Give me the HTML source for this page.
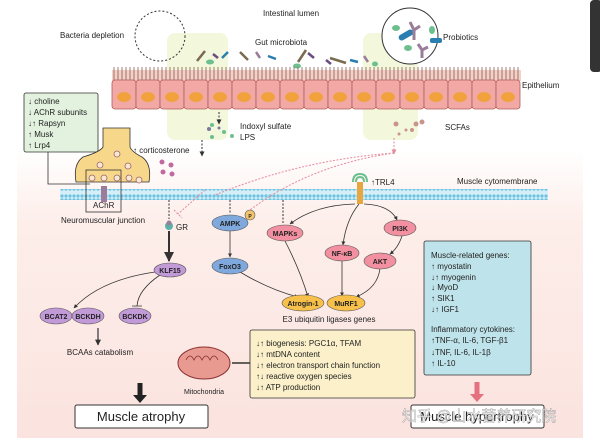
<!DOCTYPE html><html><head><meta charset="utf-8"><style>
body{margin:0;background:#fff}svg{display:block}
text{font-family:"Liberation Sans",sans-serif;font-size:8px;fill:#222}
.b{font-weight:bold;font-size:7px;text-anchor:middle}
</style></head><body>
<svg width="600" height="447" viewBox="0 0 600 447">
<defs>
<linearGradient id="pg" x1="0" y1="0" x2="0" y2="1"><stop offset="0" stop-color="#fff"/><stop offset="0.25" stop-color="#fdeeea"/><stop offset="1" stop-color="#fbe3df"/></linearGradient>
<marker id="a" viewBox="0 0 10 10" refX="9" refY="5" markerWidth="5" markerHeight="5" orient="auto"><path d="M0,0L10,5L0,10z" fill="#333"/></marker>
<marker id="ar" viewBox="0 0 10 10" refX="9" refY="5" markerWidth="5" markerHeight="5" orient="auto"><path d="M0,0L10,5L0,10z" fill="#e58a9a"/></marker>
<pattern id="mem" width="4" height="11" patternUnits="userSpaceOnUse"><rect width="4" height="11" fill="#d6eef7"/><circle cx="2" cy="2" r="1.6" fill="#6cc3e0"/><circle cx="2" cy="9" r="1.6" fill="#6cc3e0"/></pattern>
</defs>
<rect x="17" y="150" width="566" height="288" fill="url(#pg)"/>
<rect x="590" y="0" width="12" height="72" rx="4" fill="#333"/>
<rect x="167" y="33" width="61" height="107" rx="8" fill="#f3f7dc"/>
<rect x="363" y="33" width="55" height="107" rx="8" fill="#f3f7dc"/>
<text x="263" y="16">Intestinal lumen</text>
<circle cx="160" cy="36" r="25" fill="none" stroke="#333" stroke-dasharray="2,2"/>
<text x="60" y="38">Bacteria depletion</text>
<text x="255" y="45">Gut microbiota</text>
<circle cx="410" cy="36" r="28" fill="#fff" stroke="#333"/>
<rect x="398" y="32" width="16" height="6" rx="3" fill="#2a7fb0" transform="rotate(-30 406 35)"/>
<path d="M410 22l4 8 6-4M414 30v10" stroke="#9b7d9a" stroke-width="3" fill="none"/>
<path d="M418 44l4 6 6-3M422 50v8" stroke="#9b7d9a" stroke-width="3" fill="none"/>
<ellipse cx="396" cy="28" rx="4" ry="3" fill="#6dbf8f"/><ellipse cx="432" cy="30" rx="3" ry="4" fill="#6dbf8f"/><ellipse cx="408" cy="48" rx="4" ry="3" fill="#6dbf8f"/>
<rect x="430" y="38" width="12" height="5" rx="2" fill="#2a7fb0"/>
<text x="443" y="40">Probiotics</text>
<g stroke-width="2.5" fill="none">
<path d="M197 61l8-10" stroke="#7a6a50"/><path d="M240 52l8 8" stroke="#7a6a50"/><path d="M298 62l8-12" stroke="#7a6a50"/><path d="M330 58l16 5" stroke="#7a6a50"/>
<path d="M222 58l6-6" stroke="#2a7fb0"/><path d="M268 56l8 3" stroke="#2a7fb0"/><path d="M350 60l8 2" stroke="#2a7fb0"/>
<path d="M213 54l5 4M308 53l6 5M326 60l5 4" stroke="#6a4c7e"/>
<path d="M256 52l4 6M364 56l4 6" stroke="#9b7d9a"/>
</g>
<ellipse cx="210" cy="62" rx="4" ry="2.5" fill="#6dbf8f"/><ellipse cx="297" cy="66" rx="4" ry="2.5" fill="#6dbf8f"/><ellipse cx="375" cy="64" rx="3" ry="2.5" fill="#6dbf8f"/>
<rect x="112" y="70" width="409" height="11" fill="#f4d0c8"/>
<g stroke="#8a5a50" stroke-width="0.8">
<path d="M114 80V67M118 80V67M122 80V67M126 80V67M130 80V67M134 80V67M138 80V67M142 80V67M146 80V67M150 80V67M154 80V67M158 80V67M162 80V67M166 80V67M170 80V67M174 80V67M178 80V67M182 80V67M186 80V67M190 80V67M194 80V67M198 80V67M202 80V67M206 80V67M210 80V67M214 80V67M218 80V67M222 80V67M226 80V67M230 80V67M234 80V67M238 80V67M242 80V67M246 80V67M250 80V67M254 80V67M258 80V67M262 80V67M266 80V67M270 80V67M274 80V67M278 80V67M282 80V67M286 80V67M290 80V67M294 80V67M298 80V67M302 80V67M306 80V67M310 80V67M314 80V67M318 80V67M322 80V67M326 80V67M330 80V67M334 80V67M338 80V67M342 80V67M346 80V67M350 80V67M354 80V67M358 80V67M362 80V67M366 80V67M370 80V67M374 80V67M378 80V67M382 80V67M386 80V67M390 80V67M394 80V67M398 80V67M402 80V67M406 80V67M410 80V67M414 80V67M418 80V67M422 80V67M426 80V67M430 80V67M434 80V67M438 80V67M442 80V67M446 80V67M450 80V67M454 80V67M458 80V67M462 80V67M466 80V67M470 80V67M474 80V67M478 80V67M482 80V67M486 80V67M490 80V67M494 80V67M498 80V67M502 80V67M506 80V67M510 80V67M514 80V67M518 80V67"/>
</g>
<g fill="#f2a9a6" stroke="#b05b5a" stroke-width="0.8">
<rect x="112" y="80" width="24" height="29" rx="3"/><rect x="136" y="80" width="24" height="29" rx="3"/><rect x="160" y="80" width="24" height="29" rx="3"/><rect x="184" y="80" width="24" height="29" rx="3"/><rect x="208" y="80" width="24" height="29" rx="3"/><rect x="232" y="80" width="24" height="29" rx="3"/><rect x="256" y="80" width="24" height="29" rx="3"/><rect x="280" y="80" width="24" height="29" rx="3"/><rect x="304" y="80" width="24" height="29" rx="3"/><rect x="328" y="80" width="24" height="29" rx="3"/><rect x="352" y="80" width="24" height="29" rx="3"/><rect x="376" y="80" width="24" height="29" rx="3"/><rect x="400" y="80" width="24" height="29" rx="3"/><rect x="424" y="80" width="24" height="29" rx="3"/><rect x="448" y="80" width="24" height="29" rx="3"/><rect x="472" y="80" width="24" height="29" rx="3"/><rect x="496" y="80" width="24" height="29" rx="3"/>
</g>
<g fill="#f2a23c"><ellipse cx="124" cy="97" rx="7" ry="5"/><ellipse cx="148" cy="97" rx="7" ry="5"/><ellipse cx="172" cy="97" rx="7" ry="5"/><ellipse cx="196" cy="97" rx="7" ry="5"/><ellipse cx="220" cy="97" rx="7" ry="5"/><ellipse cx="244" cy="97" rx="7" ry="5"/><ellipse cx="268" cy="97" rx="7" ry="5"/><ellipse cx="292" cy="97" rx="7" ry="5"/><ellipse cx="316" cy="97" rx="7" ry="5"/><ellipse cx="340" cy="97" rx="7" ry="5"/><ellipse cx="364" cy="97" rx="7" ry="5"/><ellipse cx="388" cy="97" rx="7" ry="5"/><ellipse cx="412" cy="97" rx="7" ry="5"/><ellipse cx="436" cy="97" rx="7" ry="5"/><ellipse cx="460" cy="97" rx="7" ry="5"/><ellipse cx="484" cy="97" rx="7" ry="5"/><ellipse cx="508" cy="97" rx="7" ry="5"/></g>
<text x="522" y="88">Epithelium</text>
<rect x="24" y="93" width="74" height="59" rx="2" fill="#e3f2df" stroke="#333" stroke-width="0.8"/>
<text x="28" y="104">↓ choline</text><text x="28" y="115">↓ AChR subunits</text><text x="28" y="126">↓↑ Rapsyn</text><text x="28" y="137">↑ Musk</text><text x="28" y="148">↑ Lrp4</text>
<path d="M48 152V184H90" stroke="#333" fill="none" stroke-width="0.8"/>
<path d="M219 112V124" stroke="#333" stroke-dasharray="2,1.5" marker-end="url(#a)"/>
<g fill="#6dbf8f"><circle cx="212" cy="125" r="2"/><circle cx="224" cy="132" r="2"/><circle cx="212" cy="137" r="2"/><circle cx="232" cy="136" r="2"/></g>
<g fill="#7a7aa0"><circle cx="209" cy="129" r="2"/><circle cx="219" cy="128" r="1.5"/></g>
<text x="240" y="129">Indoxyl sulfate</text><text x="240" y="140">LPS</text>
<g fill="#c9958a"><circle cx="396" cy="124" r="2.5"/><circle cx="416" cy="124" r="2.5"/><circle cx="422" cy="122" r="2.5"/><circle cx="406" cy="130" r="1.5"/><circle cx="399" cy="134" r="1.5"/><circle cx="412" cy="130" r="2"/></g>
<text x="445" y="130">SCFAs</text>
<path d="M394 138V154" stroke="#e58a9a" stroke-dasharray="2,1.5" marker-end="url(#ar)"/>
<text x="133" y="153">↑ corticosterone</text>
<path d="M202 140V156" stroke="#333" stroke-dasharray="2,1.5" marker-end="url(#a)"/>
<g fill="#c06aa0"><circle cx="162" cy="162" r="2.5"/><circle cx="171" cy="165" r="2.5"/><circle cx="163" cy="172" r="2.5"/><circle cx="172" cy="174" r="2.5"/></g>
<path d="M103 128H130V147Q132 152 142 157Q152 164 149 182H76Q73 164 83 157Q100 152 103 147Z" fill="#f7d88a" stroke="#333" stroke-width="0.8"/>
<g fill="#f5e9d0" stroke="#a06070" stroke-width="0.8"><circle cx="117" cy="154" r="3"/><circle cx="100" cy="165" r="3"/><circle cx="128" cy="166" r="3"/><circle cx="92" cy="178" r="3"/><circle cx="104" cy="178" r="3"/><circle cx="117" cy="178" r="3"/><circle cx="129" cy="178" r="3"/><circle cx="139" cy="180" r="3"/></g>
<rect x="60" y="189" width="488" height="11" fill="url(#mem)"/>
<rect x="86" y="170" width="35" height="42" fill="none" stroke="#333" stroke-width="0.8"/>
<rect x="101" y="186" width="6" height="16" fill="#9b7d9a"/>
<text x="93" y="208">AChR</text>
<text x="61" y="223">Neuromuscular junction</text>
<path d="M394 153Q300 160 215 195M394 153Q310 165 250 210" stroke="#e58a9a" stroke-dasharray="2,1.5" fill="none"/>
<path d="M205 190L178 214M174 210l8 8" stroke="#e58a9a" stroke-dasharray="2,1.5" fill="none"/>
<path d="M353 182q0-8 7-8q7 0 7 8M356 182q0-5 4-5q4 0 4 5" stroke="#6dbf8f" stroke-width="2" fill="none"/>
<rect x="357" y="182" width="6" height="22" fill="#e8a640"/>
<text x="371" y="185">↑TRL4</text>
<text x="457" y="184">Muscle cytomembrane</text>
<path d="M169 200V219M230 200V214M283 200V224" stroke="#333" stroke-dasharray="2,1.5"/>
<circle cx="169" cy="226" r="4" fill="#5bb0a8"/><circle cx="169" cy="223" r="2.5" fill="#9b7d9a"/>
<text x="176" y="230">GR</text>
<path d="M169 231V261" stroke="#333" stroke-width="2" marker-end="url(#a)"/>
<g stroke="#333" fill="none" stroke-width="0.8">
<path d="M230 231V257" marker-end="url(#a)"/>
<path d="M240 272Q270 290 298 297" marker-end="url(#a)"/>
<path d="M285 241Q300 270 308 297" marker-end="url(#a)"/>
<path d="M342 261V296" marker-end="url(#a)"/>
<path d="M380 268Q378 288 356 297" marker-end="url(#a)"/>
<path d="M402 236Q398 248 390 254" marker-end="url(#a)"/>
<path d="M355 204Q315 205 290 224" marker-end="url(#a)"/>
<path d="M359 204Q346 220 343 245" marker-end="url(#a)"/>
<path d="M364 204Q390 205 397 220" marker-end="url(#a)"/>
<path d="M155 272Q100 280 74 308" marker-end="url(#a)"/>
<path d="M160 275Q138 290 137 306M132 306h10"/>
</g>
<path d="M98 328V345" stroke="#333" stroke-width="1.2" marker-end="url(#a)"/>
<g stroke="#555" stroke-width="0.6">
<ellipse cx="230" cy="223" rx="18" ry="8" fill="#7fa8dc"/><circle cx="250" cy="215" r="5" fill="#f2c46e"/>
<ellipse cx="230" cy="266" rx="18" ry="8" fill="#7fa8dc"/>
<ellipse cx="285" cy="233" rx="18" ry="8" fill="#f28fa0"/>
<ellipse cx="342" cy="253" rx="17" ry="8" fill="#f28fa0"/>
<ellipse cx="400" cy="228" rx="16" ry="8" fill="#f28fa0"/>
<ellipse cx="380" cy="261" rx="16" ry="8" fill="#f28fa0"/>
<ellipse cx="170" cy="270" rx="16" ry="7" fill="#c29ad8"/>
<ellipse cx="56" cy="316" rx="16" ry="8" fill="#c29ad8"/><ellipse cx="88" cy="316" rx="16" ry="8" fill="#c29ad8"/><ellipse cx="135" cy="316" rx="16" ry="8" fill="#c29ad8"/>
<ellipse cx="303" cy="303" rx="21" ry="8" fill="#f6c04a"/><ellipse cx="346" cy="303" rx="19" ry="8" fill="#f6c04a"/>
</g>
<text class="b" x="230" y="226">AMPK</text><text class="b" x="250" y="218" style="font-size:5px">P</text>
<text class="b" x="230" y="269">FoxO3</text><text class="b" x="285" y="236">MAPKs</text><text class="b" x="342" y="256">NF-κB</text>
<text class="b" x="400" y="231">PI3K</text><text class="b" x="380" y="264">AKT</text><text class="b" x="170" y="273">KLF15</text>
<text class="b" x="56" y="319">BCAT2</text><text class="b" x="88" y="319">BCKDH</text><text class="b" x="135" y="319">BCKDK</text>
<text class="b" x="303" y="306">Atrogin-1</text><text class="b" x="346" y="306">MuRF1</text>
<text x="329" y="322" text-anchor="middle">E3 ubiquitin ligases genes</text>
<text x="100" y="355" text-anchor="middle">BCAAs catabolism</text>
<ellipse cx="204" cy="363" rx="26" ry="16" fill="#e89a90" stroke="#8a3030"/>
<path d="M186 360q4-8 8 0q4-8 8 0q4-8 8 0q4-8 8 0" stroke="#8a3030" fill="none" stroke-width="0.8"/>
<path d="M232 363H250" stroke="#333" stroke-width="1.5"/>
<text x="204" y="394" text-anchor="middle" style="font-size:7px">Mitochondria</text>
<rect x="250" y="330" width="165" height="68" rx="2" fill="#fbf0c9" stroke="#333" stroke-width="0.8"/>
<text x="256" y="346">↓↑ biogenesis: PGC1α, TFAM</text><text x="256" y="357">↓↑ mtDNA content</text><text x="256" y="368">↓↑ electron transport chain function</text><text x="256" y="379">↑↓ reactive oxygen species</text><text x="256" y="390">↓↑ ATP production</text>
<rect x="424" y="241" width="107" height="134" rx="2" fill="#bfe3ea" stroke="#333" stroke-width="0.8"/>
<text x="431" y="258">Muscle-related genes:</text><text x="431" y="269">↑ myostatin</text><text x="431" y="280">↓↑ myogenin</text><text x="431" y="290">↓ MyoD</text><text x="431" y="301">↑ SIK1</text><text x="431" y="312">↓↑ IGF1</text>
<text x="431" y="332">Inflammatory cytokines:</text><text x="431" y="343">↑TNF-α, IL-6, TGF-β1</text><text x="431" y="355">↓TNF, IL-6, IL-1β</text><text x="431" y="366">↑ IL-10</text>
<path d="M140 383V396" stroke="#222" stroke-width="5"/><path d="M133 395h14l-7 8z" fill="#222"/>
<path d="M477 382V395" stroke="#e5707e" stroke-width="5"/><path d="M470 394h14l-7 8z" fill="#e5707e"/>
<rect x="75" y="405" width="133" height="23" rx="2" fill="#fff" stroke="#333"/>
<text x="141" y="421" text-anchor="middle" style="font-size:13px">Muscle atrophy</text>
<rect x="411" y="405" width="133" height="23" rx="2" fill="#fff" stroke="#333"/>
<text x="477" y="421" text-anchor="middle" style="font-size:13px">Muscle hypertrophy</text>
<text x="402" y="421" style="font-size:15px;fill:#fff;fill-opacity:0.75;stroke:#999;stroke-width:0.4;font-family:'Liberation Sans','Noto Sans CJK SC',sans-serif">知乎 @山水营养研究院</text>
</svg>
</body></html>
